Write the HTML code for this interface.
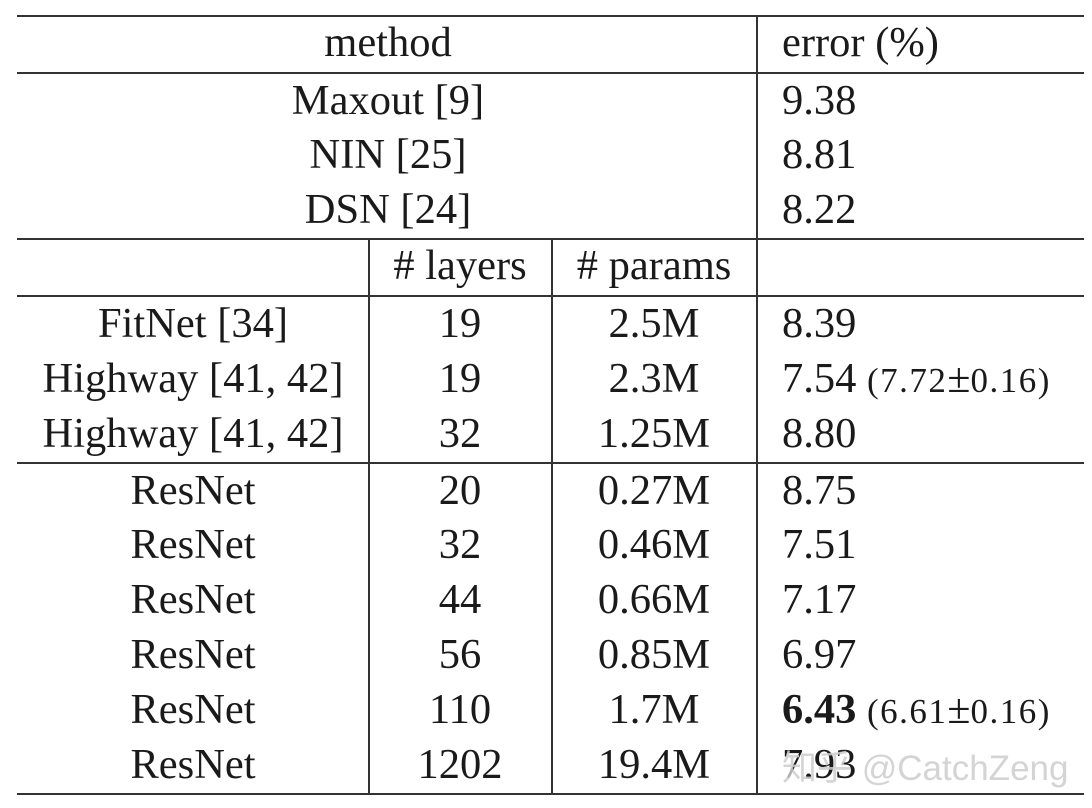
<!DOCTYPE html>
<html><head><meta charset="utf-8"><style>
body{margin:0;width:1092px;height:808px;background:#fff;position:relative;overflow:hidden;font-family:"Liberation Serif",serif;color:#1a1a1a}
.h{position:absolute;left:17px;width:1067px;height:2px;background:#333}
.v{position:absolute;width:2px;background:#333}
.t{position:absolute;font-size:42.5px;line-height:41px;white-space:nowrap}
.c{transform:translateX(-50%)}
.s{font-size:35px;letter-spacing:1.5px}
.pm{font-size:42px;letter-spacing:0}
</style></head><body>
<div class="h" style="top:15px"></div>
<div class="h" style="top:72px"></div>
<div class="h" style="top:238px"></div>
<div class="h" style="top:295px"></div>
<div class="h" style="top:462px"></div>
<div class="h" style="top:793px"></div>
<div class="v" style="left:756px;top:15px;height:780px"></div>
<div class="v" style="left:368px;top:238px;height:557px"></div>
<div class="v" style="left:551px;top:238px;height:557px"></div>

<div class="t c" style="left:388px;top:22px">method</div>
<div class="t" style="left:782px;top:22px">error (%)</div>

<div class="t c" style="left:388px;top:80px">Maxout [9]</div><div class="t" style="left:782px;top:80px">9.38</div>
<div class="t c" style="left:388px;top:134px">NIN [25]</div><div class="t" style="left:782px;top:134px">8.81</div>
<div class="t c" style="left:388px;top:189px">DSN [24]</div><div class="t" style="left:782px;top:189px">8.22</div>

<div class="t c" style="left:460px;top:245px"># layers</div>
<div class="t c" style="left:654px;top:245px"># params</div>

<div class="t c" style="left:193px;top:303px">FitNet [34]</div><div class="t c" style="left:460px;top:303px">19</div><div class="t c" style="left:654px;top:303px">2.5M</div><div class="t" style="left:782px;top:303px">8.39</div>
<div class="t c" style="left:193px;top:358px">Highway [41, 42]</div><div class="t c" style="left:460px;top:358px">19</div><div class="t c" style="left:654px;top:358px">2.3M</div><div class="t" style="left:782px;top:358px">7.54 <span class="s">(7.72<span class="pm">±</span>0.16)</span></div>
<div class="t c" style="left:193px;top:413px">Highway [41, 42]</div><div class="t c" style="left:460px;top:413px">32</div><div class="t c" style="left:654px;top:413px">1.25M</div><div class="t" style="left:782px;top:413px">8.80</div>

<div class="t c" style="left:193px;top:470px">ResNet</div><div class="t c" style="left:460px;top:470px">20</div><div class="t c" style="left:654px;top:470px">0.27M</div><div class="t" style="left:782px;top:470px">8.75</div>
<div class="t c" style="left:193px;top:524px">ResNet</div><div class="t c" style="left:460px;top:524px">32</div><div class="t c" style="left:654px;top:524px">0.46M</div><div class="t" style="left:782px;top:524px">7.51</div>
<div class="t c" style="left:193px;top:579px">ResNet</div><div class="t c" style="left:460px;top:579px">44</div><div class="t c" style="left:654px;top:579px">0.66M</div><div class="t" style="left:782px;top:579px">7.17</div>
<div class="t c" style="left:193px;top:634px">ResNet</div><div class="t c" style="left:460px;top:634px">56</div><div class="t c" style="left:654px;top:634px">0.85M</div><div class="t" style="left:782px;top:634px">6.97</div>
<div class="t c" style="left:193px;top:689px">ResNet</div><div class="t c" style="left:460px;top:689px">110</div><div class="t c" style="left:654px;top:689px">1.7M</div><div class="t" style="left:782px;top:689px"><b>6.43</b> <span class="s">(6.61<span class="pm">±</span>0.16)</span></div>
<div class="t c" style="left:193px;top:744px">ResNet</div><div class="t c" style="left:460px;top:744px">1202</div><div class="t c" style="left:654px;top:744px">19.4M</div><div class="t" style="left:782px;top:744px">7.93</div>
<div style="position:absolute;left:782px;top:740px;font-family:'Liberation Sans','Noto Sans CJK SC',sans-serif;font-size:35px;color:rgba(205,205,205,0.85);white-space:nowrap">知乎 @CatchZeng</div>
</body></html>
